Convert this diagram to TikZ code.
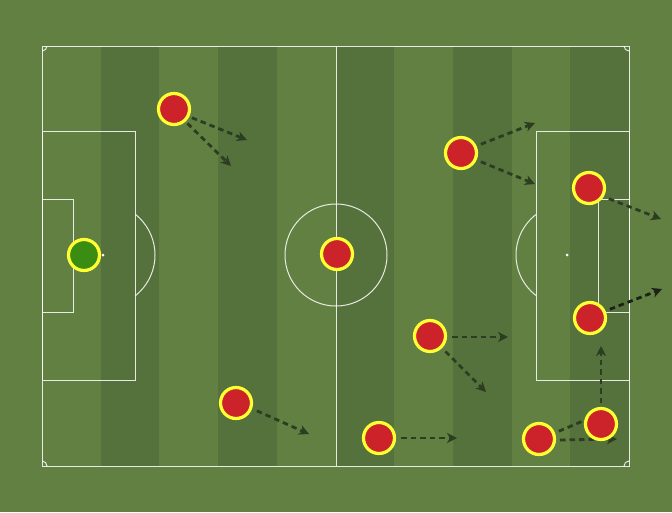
\documentclass[tikz,border=0pt]{standalone}
\usetikzlibrary{arrows.meta,shadows}
\definecolor{bg}{HTML}{628042}
\definecolor{stripe}{HTML}{56723C}
\definecolor{pred}{HTML}{CC2229}
\definecolor{pgreen}{HTML}{3B8C12}
\definecolor{ring}{HTML}{FFFF33}
\definecolor{runc}{HTML}{2C3D22}
\definecolor{runk}{HTML}{1C2218}
\tikzset{
  pline/.style={draw=white, opacity=0.85, line width=1pt},
  player/.style={circle, draw=ring, line width=3.2pt, fill=pred, minimum size=31pt, inner sep=0pt,
    drop shadow={shadow xshift=0.6pt, shadow yshift=-1.4pt, opacity=0.35}},
  keeper/.style={player, fill=pgreen},
  run/.style={draw=runc, line width=2.8pt, dash pattern=on 5.5pt off 4pt,
    -{Stealth[length=10pt,width=10pt,inset=3pt]}, shorten <=2pt},
  runplain/.style={draw=runc, line width=2.8pt, dash pattern=on 5.5pt off 4pt, shorten <=2pt},
  spot/.style={circle, fill=white, inner sep=0pt, minimum size=3pt}
}
\begin{document}
\begin{tikzpicture}[x=1pt,y=-1pt]
\fill[bg] (0,0) rectangle (672,512);
\useasboundingbox (0,0) rectangle (672,512);
% stripes
\foreach \i in {0,...,4}
  \fill[stripe] ({100.7+117.4*\i},46) rectangle ({159.4+117.4*\i},466);
% lines
\draw[pline] (42,46) rectangle (629,466);
\draw[pline] (336,46) -- (336,466);
\draw[pline] (336,255) circle[radius=51pt];
\draw[pline] (42,131) rectangle (135,380);
\draw[pline] (42,199) rectangle (73,312);
\draw[pline] (536,131) rectangle (629,380);
\draw[pline] (598,199) rectangle (629,312);
\begin{scope}
  \clip (135,46) rectangle (336,466);
  \draw[pline] (103,255) circle[radius=52pt];
\end{scope}
\begin{scope}
  \clip (336,46) rectangle (536,466);
  \draw[pline] (567,255) circle[radius=51pt];
\end{scope}
\node[spot] (ls) at (103,255) {};
\node[spot] (rs) at (567,255) {};
% corner arcs
\begin{scope}
  \clip (42,46) rectangle (629,466);
  \draw[pline] (42,46) circle[radius=5pt];
  \draw[pline] (629,46) circle[radius=5pt];
  \draw[pline] (42,466) circle[radius=5pt];
  \draw[pline] (629,466) circle[radius=5pt];
\end{scope}
% players (positions)
\coordinate (p1) at (174,109);
\coordinate (p2) at (461,153);
\coordinate (p3) at (589,188);
\coordinate (p4) at (84,255);
\coordinate (p5) at (337,254);
\coordinate (p6) at (430,336);
\coordinate (p7) at (590,318);
\coordinate (p8) at (236,403);
\coordinate (p9) at (379,438);
\coordinate (p10) at (539,439);
\coordinate (p11) at (601,424);
% run targets
\coordinate (t1a) at (247,140);
\coordinate (t1b) at (231,166);
\coordinate (t2a) at (535,123);
\coordinate (t2b) at (535,184);
\coordinate (t3) at (661,219);
\coordinate (t7) at (662,289);
\coordinate (t6a) at (508,337);
\coordinate (t6b) at (486,392);
\coordinate (t8) at (309,434);
\coordinate (t9) at (457,438);
\coordinate (t11) at (601,346);
\coordinate (t10) at (617,439);
\coordinate (s1a) at (190,117);
\coordinate (s1b) at (186,122);
\coordinate (s2a) at (479,145);
\coordinate (s2b) at (479,161);
\coordinate (s3) at (607,198);
\coordinate (s7) at (608,310);
\coordinate (s6a) at (450,337);
\coordinate (s6b) at (444,350);
\coordinate (s8) at (255,410);
\coordinate (s9) at (399,438);
\coordinate (s11) at (601,405);
\coordinate (s10a) at (557,432);
\coordinate (s10b) at (558,440);
\coordinate (e10) at (590,418);
% runs
\draw[run] (s1a) -- (t1a);
\draw[run] (s1b) -- (t1b);
\draw[run] (s2a) -- (t2a);
\draw[run] (s2b) -- (t2b);
\draw[run] (s3) -- (t3);
\draw[run, draw=runk] (s7) -- (t7);
\draw[run] (s6a) -- (t6a);
\draw[run] (s6b) -- (t6b);
\draw[run] (s8) -- (t8);
\draw[run] (s9) -- (t9);
\draw[run] (s11) -- (t11);
\draw[run] (s10b) -- (t10);
\draw[runplain] (s10a) -- (e10);
% player nodes
\node[player] (n1) at (p1) {};
\node[player] (n2) at (p2) {};
\node[player] (n3) at (p3) {};
\node[keeper] (n4) at (p4) {};
\node[player] (n5) at (p5) {};
\node[player] (n6) at (p6) {};
\node[player] (n7) at (p7) {};
\node[player] (n8) at (p8) {};
\node[player] (n9) at (p9) {};
\node[player] (n10) at (p10) {};
\node[player] (n11) at (p11) {};
\end{tikzpicture}
\end{document}
